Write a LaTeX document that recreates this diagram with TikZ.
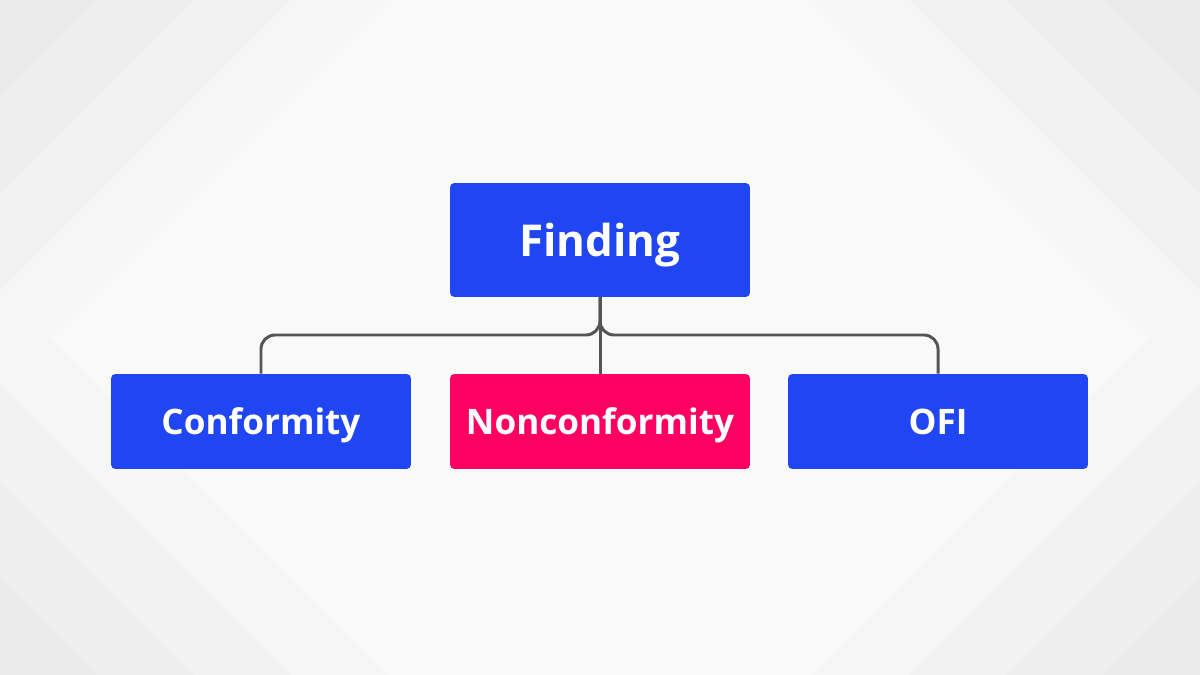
\documentclass[tikz,border=0pt]{standalone}
\usepackage{fontspec}
\setmainfont{Open Sans}
\usetikzlibrary{positioning, calc}
\definecolor{royal}{HTML}{1F46F2}
\definecolor{hotpink}{HTML}{FF0062}
\definecolor{linkgray}{HTML}{555555}

\begin{document}
\begin{tikzpicture}[x=0.02cm, y=-0.02cm,
  top box/.style={rectangle, rounded corners=2.5pt, fill=royal, text=white, inner sep=0pt, text depth=0pt, minimum width=6cm, minimum height=2.28cm, font=\bfseries\fontsize{25}{30}\selectfont},
  child box/.style={rectangle, rounded corners=2.5pt, fill=royal, text=white, inner sep=0pt, text depth=0pt, minimum width=6cm, minimum height=1.9cm, font=\bfseries\fontsize{20}{24}\selectfont},
  link/.style={draw=linkgray, line width=1.7pt, rounded corners=8pt},
]

  \useasboundingbox (0,0) rectangle (1200,675);

  % Background chevrons
  \begin{scope}
    \clip (0,0) rectangle (1200,675);
    \fill[black!11!white] (0,0) rectangle (1200,675);
    \foreach \a/\c in {1040/9.5, 940/8, 840/6.5, 743/5, 646/3.5, 549/2.2} {
      \fill[black!\c!white] ({600-\a},337.5) -- (600,{337.5-\a}) -- ({600+\a},337.5) -- (600,{337.5+\a}) -- cycle;
    }
  \end{scope}

  % Finding
  \node[top box] (find) at (600,240) {Finding};

  % Kinds of finding
  \node[child box] (conf) at (261,421.5) {Conformity};
  \node[child box, fill=hotpink] (nonc) at (600,421.5) {Nonconformity};
  \node[child box] (ofi) at (938,421.5) {OFI};

  % Branch point
  \coordinate (bar) at (600,335);

  % Connectors
  \draw[link] (find.south) -- (bar) -| (conf.north);
  \draw[link] (find.south) -- (bar) -| (ofi.north);
  \draw[link] (find.south) -- (nonc.north);

\end{tikzpicture}
\end{document}
